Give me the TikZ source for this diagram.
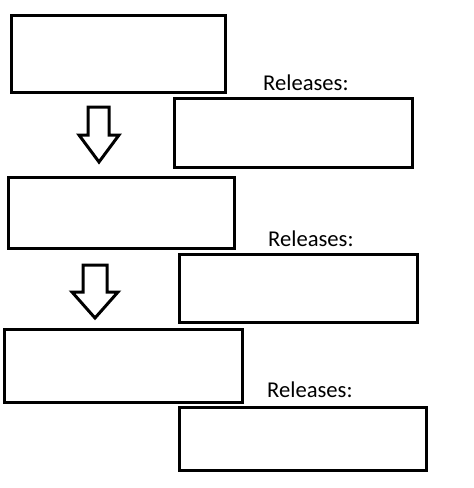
\documentclass[tikz,border=0pt]{standalone}
\usepackage{fontspec}
\setmainfont{Carlito}
\begin{document}
\begin{tikzpicture}[x=1pt,y=-1pt,
  box/.style={draw=black,line width=3pt,inner sep=0pt,outer sep=0pt,anchor=north west},
  harrow/.style={draw=black,line width=3pt,line join=miter,fill=white},
  lbl/.style={inner sep=0pt,anchor=base west,font=\fontsize{22.6}{26}\selectfont}]
\useasboundingbox[fill=white] (0,0) rectangle (474,488);
% left boxes
\node[box,minimum width=214pt,minimum height=77pt] (s1) at (11,15) {};
\node[box,minimum width=226pt,minimum height=71pt] (s2) at (8,177) {};
\node[box,minimum width=238pt,minimum height=73pt] (s3) at (4,329) {};
% right boxes
\node[box,minimum width=238pt,minimum height=69pt] (r1) at (174,98) {};
\node[box,minimum width=238pt,minimum height=68pt] (r2) at (179,254) {};
\node[box,minimum width=247pt,minimum height=63pt] (r3) at (179,407) {};
% labels
\node[lbl] (l1) at (263,90) {Releases:};
\node[lbl] (l2) at (268,246) {Releases:};
\node[lbl] (l3) at (267,397) {Releases:};
% arrows
\draw[harrow] (88,107) -- (109,107) -- (109,135) -- (119,135) -- (99,162) -- (79,135) -- (88,135) -- cycle;
\draw[harrow] (83,265) -- (107,265) -- (107,292) -- (118,292) -- (95,318) -- (72,292) -- (83,292) -- cycle;
\end{tikzpicture}
\end{document}
